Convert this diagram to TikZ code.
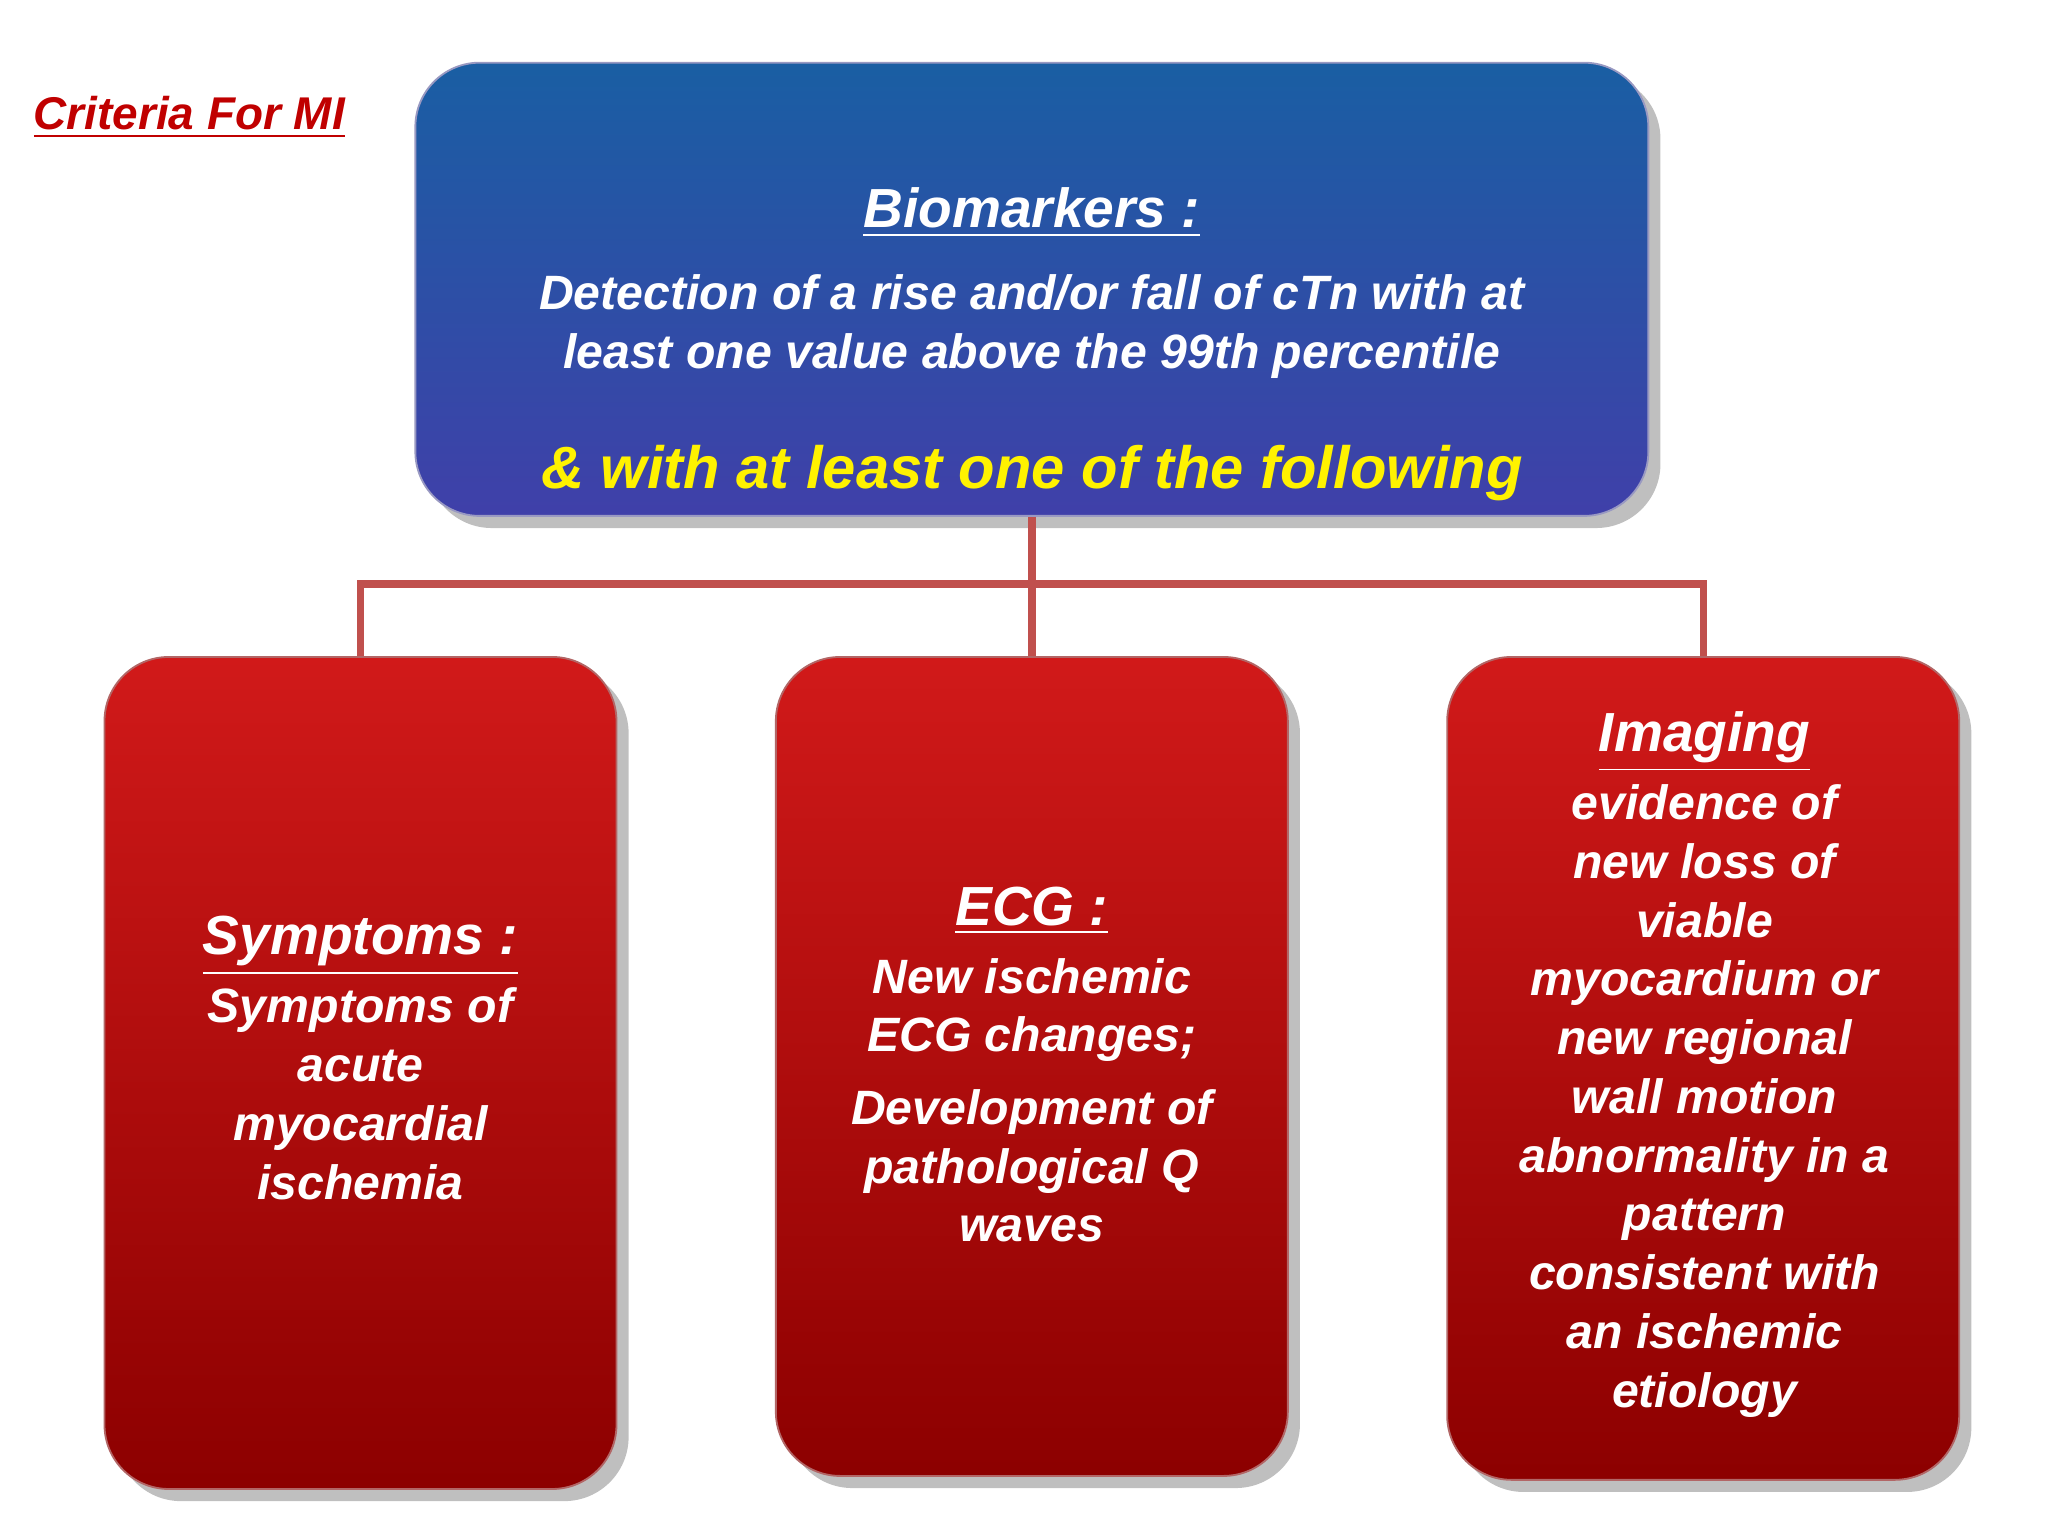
\documentclass[tikz,border=0pt]{standalone}
\usepackage{fontspec}
\setmainfont{Liberation Sans}
\usetikzlibrary{positioning,shadows}
\definecolor{linkred}{HTML}{C0504D}
\definecolor{titlered}{HTML}{C00000}
\tikzset{
	bluebox/.style={rounded corners=14pt,top color=blue!50!cyan!60!black!90,bottom color=blue!55!black!75,
		draw=blue!40!black!40,drop shadow,text=white,minimum width=9.44cm,minimum height=3.47cm},
	redbox/.style={rounded corners=14pt,top color=red!80!black!90,bottom color=red!55!black,
		draw=red!50!black!60,drop shadow,text=white,minimum width=3.92cm,text width=3.6cm,align=center},
	boxtext/.style={font=\bfseries\itshape\fontsize{10.5}{12.8}\selectfont,text=white,align=center},
	link/.style={draw=linkred,line width=1.6pt}
}
\newcommand{\headline}[1]{\underline{#1}}
\begin{document}
\begin{tikzpicture}
	\useasboundingbox (0,0) rectangle (15.68,-11.76);
	%title
	\node[font=\bfseries\itshape\fontsize{10}{12}\selectfont,text=titlered] (title) at (1.45,-0.9) {\underline{Criteria For MI}};
	
	%boxes
	\node[bluebox] (bio) at (7.9,-2.215) {};
	\node[redbox,minimum height=6.37cm] (sym) at (2.76,-8.215) {};
	\node[redbox,minimum height=6.27cm] (ecg) at (7.9,-8.165) {};
	\node[redbox,minimum height=6.30cm] (img) at (13.04,-8.18) {};
	
	%biomarkers text
	\node[boxtext,font=\bfseries\itshape\fontsize{12}{14}\selectfont] (biohead) at (7.9,-1.63) {\headline{Biomarkers :}};
	\node[boxtext] (biobody) at (7.9,-2.5) {Detection of a rise and/or fall of cTn with at\\least one value above the 99th percentile};
	\node[font=\bfseries\itshape\fontsize{13}{15}\selectfont,text=yellow] (follow) at (7.9,-3.62) {\& with at least one of the following};
	
	%red box texts
	\node[boxtext] (symtext) at (2.76,-8.1) {\fontsize{12}{14}\selectfont\headline{Symptoms :}\\[2pt]Symptoms of\\acute\\myocardial\\ischemia};
	\node[boxtext] (ecgtext) at (7.9,-8.15) {\fontsize{12}{14}\selectfont\headline{ECG :}\\[2pt]New ischemic\\ECG changes;\\[3pt]Development of\\pathological Q\\waves};
	\node[boxtext] (imgtext) at (13.05,-8.15) {\fontsize{12}{14}\selectfont\headline{Imaging}\\[2pt]evidence of\\new loss of\\viable\\myocardium or\\new regional\\wall motion\\abnormality in a\\pattern\\consistent with\\an ischemic\\etiology};
	
	%connectors
	\coordinate (fork) at (7.9,-4.47);
	\draw[link] (bio.south) -- (fork);
	\draw[link] (fork) -| (sym.north);
	\draw[link] (fork) -| (img.north);
	\draw[link] (fork) -- (ecg.north);
\end{tikzpicture}
\end{document}
